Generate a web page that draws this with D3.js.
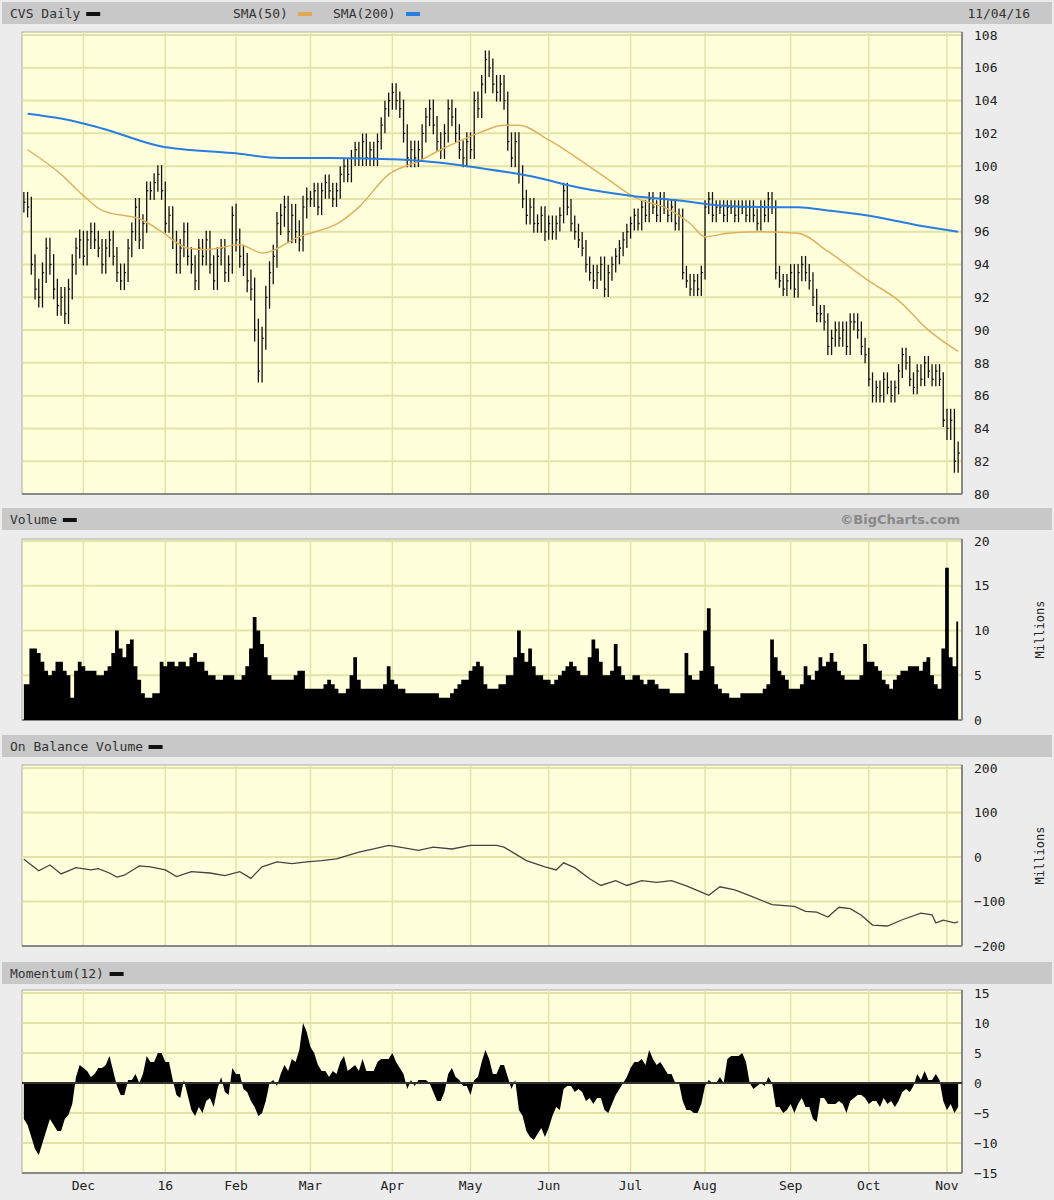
<!DOCTYPE html>
<html>
<head>
<meta charset="utf-8">
<script src="https://cdn.jsdelivr.net/npm/d3@7"></script>
<style>
  body { margin: 0; background: #ececec; }
  svg { display: block; }
</style>
</head>
<body>
<svg id="chart" width="1054" height="1200"></svg>
<script>
// daily closes, 2015-11-06 .. 2016-11-04, one block per month
var closes = [].concat(
  [97.8, 97.5, 94, 92.5, 92, 93.5, 95, 94, 92.5, 91.5, 92, 91, 92.5, 94, 95, 95.5],
  [94.5, 95.5, 96, 95.5, 95, 94, 95, 95.5, 94.5, 93.5, 93, 93.5, 95, 96, 97.5, 95.5, 96.5, 98.5, 98.5, 99, 99.5, 98.5],
  [96.5, 97, 95.5, 94, 95, 96, 94.5, 94, 93, 95, 94.5, 95.5, 94, 93, 94.5, 95, 93.5, 94, 97],
  [95.5, 94.5, 94, 93, 92.5, 90, 87.5, 89.5, 92, 93.5, 94.5, 96.5, 97, 97.5, 96, 97, 96, 95.5, 97.5, 98],
  [98, 98.5, 97.5, 98.5, 99, 98.5, 98, 98.5, 99.5, 100, 99.5, 100.5, 101, 100.5, 101.5, 100.5, 101, 100.5, 101.5, 102.5, 103.5, 104],
  [104.5, 104, 103.5, 102, 100.5, 101, 100.5, 101, 102, 103, 103.5, 102.5, 101.5, 101, 102, 103.5, 103, 102, 101, 100.5, 101.5],
  [101, 104, 103.5, 105, 106.5, 106, 105, 104.5, 105, 104, 101.5, 100.5, 101.5, 99.5, 98, 97, 97.5, 96.5, 96.5, 97, 96],
  [96.5, 96, 96.5, 97, 98.5, 97.5, 96.5, 96, 95.5, 95, 94, 93.5, 93, 93.5, 94, 92.5, 93.5, 94, 94.5, 95, 95.5, 96],
  [96.5, 97, 96.5, 97.5, 97, 98, 97.5, 97, 98, 97.5, 97, 97.5, 96.5, 97, 93.5, 93, 92.5, 93, 92.5, 93.5],
  [97.5, 98, 97, 97.5, 97.5, 97, 97.5, 97.5, 97, 97.5, 97.5, 97, 97.5, 97, 96.5, 97.5, 97, 98, 97.5, 93.5, 93, 92.5, 93],
  [93.5, 92.5, 93.5, 94, 93.5, 93, 92, 91, 91, 90.5, 89, 89.5, 90, 89.5, 90, 89, 90.5, 90.5, 90, 89, 88.5],
  [87, 86, 86.5, 86, 87, 86.5, 86, 86.5, 87.5, 88.5, 88, 87, 86.5, 87.5, 87, 88, 87.5, 87, 87.5, 87, 84.5],
  [84, 84.5, 82, 82.5]
);
// typical daily high-low range per month (Nov .. Nov)
var monthRange = [1.8, 1.6, 1.6, 2, 1.4, 1.6, 1.6, 1.4, 1.2, 1.2, 1.5, 1.2, 2];
var monthLen = [16, 22, 19, 20, 22, 21, 21, 22, 20, 23, 21, 21, 4];

// daily volume, millions
var volumes = [4, 4, 8, 8, 7.5, 6.5, 5.5, 5, 5.5, 6.5, 6.5, 5.5, 5, 2.5, 5.5, 6.5,
  6, 5.5, 5.5, 5.5, 5, 5, 5.5, 6, 7.5, 10, 8, 7, 8.5, 9, 6, 4.5, 3, 2.5, 2.5, 3, 3, 6.5,
  6, 6.5, 6.5, 6, 6.5, 6.5, 6, 7, 7.5, 6.5, 6.5, 5.5, 5, 5, 4.5, 4.5, 5, 5, 5,
  4.5, 4.5, 5, 6, 8, 11.5, 10, 8.5, 7, 5, 4.5, 4.5, 4.5, 4.5, 4.5, 4.5, 5, 5.5, 5.5, 3.5,
  3.5, 3.5, 3.5, 3.5, 4, 4.5, 4, 3.5, 3, 3, 3.5, 5, 7, 4.5, 3.5, 3.5, 3.5, 3.5, 3.5, 3.5, 4, 6,
  4.5, 4, 3.5, 3.5, 3, 3, 3, 3, 3, 3, 3, 3, 3, 2.5, 2.5, 2.5, 3, 3.5, 4, 4.5, 4.5,
  5.5, 6, 6.5, 6, 4, 3.5, 3.5, 3.5, 4, 4, 5, 5, 7, 10, 7.5, 6.5, 8, 6, 5, 5, 4.5,
  4.5, 4, 4.5, 5, 5.5, 6, 6.5, 6, 5.5, 5, 5, 7, 9, 8, 6.5, 5, 5, 5.5, 8.5, 6, 5, 4.5,
  4.5, 5, 5, 4.5, 4, 4.5, 4.5, 4, 3.5, 3.5, 3.5, 3, 3, 3, 3, 7.5, 5, 4.5, 4.5, 5.5,
  10, 12.5, 6, 4, 3.5, 3, 3, 2.5, 2.5, 2.5, 3, 3, 3, 3, 3, 3, 3.5, 4, 9, 7, 5.5, 5, 4.5,
  3.5, 3.5, 3.5, 4, 6, 5, 4.5, 5.5, 7, 6, 6.5, 7.5, 6.5, 5.5, 5, 4.5, 4.5, 4.5, 4.5, 5, 8.5,
  6.5, 6.5, 6, 5.5, 4.5, 4, 3.5, 4.5, 5, 5.5, 5.5, 6, 6, 6, 5.5, 6.5, 7, 5, 4, 3.5, 8,
  17, 7, 6, 11];

// moving averages: [day index, value]
var sma50 = [[1, 101], [10, 99.5], [16, 98.2], [21, 97.3], [32, 96.7], [37, 96], [44, 95], [49, 94.9],
  [58, 95.2], [64, 94.7], [74, 95.7], [85, 96.6], [90, 97.5], [98, 99.5], [106, 100.3], [112, 101],
  [122, 102], [129, 102.5], [133, 102.5], [141, 101.6], [155, 99.5], [165, 98], [172, 97.5],
  [179, 96.5], [183, 95.7], [189, 95.9], [197, 96], [208, 95.9], [216, 94.8], [227, 93],
  [235, 91.8], [243, 90], [251, 88.7]];
var sma200 = [[1, 103.2], [10, 102.9], [21, 102.3], [37, 101.2], [56, 100.8], [69, 100.5], [82, 100.5],
  [101, 100.4], [112, 100.2], [122, 99.9], [136, 99.4], [149, 98.7], [163, 98.2], [176, 97.9],
  [187, 97.6], [200, 97.5], [208, 97.5], [216, 97.3], [229, 96.9], [240, 96.4], [251, 96]];

// on balance volume, millions: [day index, value]
var obv = [[0, -5], [4, -31], [7, -18], [10, -38], [14, -24], [18, -29], [20, -26], [23, -36], [25, -45],
  [27, -41], [31, -20], [34, -22], [38, -29], [41, -44], [45, -33], [50, -36], [54, -42], [58, -33],
  [61, -48], [64, -22], [68, -11], [72, -15], [76, -11], [80, -8], [84, -4], [86, 1], [90, 11], [94, 18],
  [98, 26], [101, 22], [106, 15], [110, 22], [115, 18], [120, 26], [123, 26], [127, 26], [129, 22],
  [132, 7], [135, -8], [140, -22], [143, -29], [145, -13], [148, -24], [152, -49], [155, -64], [159, -53],
  [162, -64], [166, -53], [170, -57], [174, -53], [178, -65], [182, -79], [184, -86], [187, -67],
  [191, -74], [195, -87], [201, -107], [207, -111], [210, -122], [213, -124], [216, -135], [219, -113],
  [222, -116], [225, -131], [228, -153], [232, -155], [236, -141], [241, -126], [244, -130],
  [245, -148], [247, -142], [250, -148], [251, -146]];

// momentum for the first 12 days (needs closes before the window)
var momentumStart = [-6, -7, -9, -11, -12, -10, -8, -6, -7, -8, -8, -6];

var monthLabels = ["Dec", "16", "Feb", "Mar", "Apr", "May", "Jun", "Jul", "Aug", "Sep", "Oct", "Nov"];
var priceTicks = d3.range(80, 109, 2);
var volTicks = [0, 5, 10, 15, 20];
var obvTicks = [-200, -100, 0, 100, 200];
var momTicks = [-15, -10, -5, 0, 5, 10, 15];

var n = closes.length;
var svg = d3.select("#chart");
var font = "DejaVu Sans Mono";
var plotBg = "#ffffdc", gridC = "#e3e3a8";

var x = d3.scaleLinear().domain([-0.5, n - 0.5]).range([22, 960]);

// first trading day index of each month after the first
var monthStarts = [];
var acc = 0;
monthLen.forEach(function(l, i) { if (i > 0) monthStarts.push(acc); acc += l; });
var dayRange = [];
monthLen.forEach(function(l, i) { for (var k = 0; k < l; k++) dayRange.push(monthRange[i]); });

function header(y, label, dash) {
  svg.append("rect").attr("x", 2).attr("y", y).attr("width", 1050).attr("height", 22).attr("fill", "#c8c8c8");
  svg.append("text").attr("x", 10).attr("y", y + 16).attr("font-family", font).attr("font-size", 13)
    .attr("fill", "#333").text(label);
  var w = label.length * 7.8;
  svg.append("rect").attr("x", 10 + w + 6).attr("y", y + 10).attr("width", 14).attr("height", 4).attr("fill", dash);
}

function panel(top, bottom, y, ticks, fmt, units) {
  svg.append("rect").attr("x", 22).attr("y", top).attr("width", 940).attr("height", bottom - top)
    .attr("fill", plotBg).attr("stroke", "#aaa");
  svg.selectAll(null).data(ticks).enter().append("line")
    .attr("x1", 22).attr("x2", 962).attr("y1", function(d) { return y(d); }).attr("y2", function(d) { return y(d); })
    .attr("stroke", gridC).attr("stroke-width", 2);
  svg.selectAll(null).data(monthStarts).enter().append("line")
    .attr("x1", function(d) { return x(d); }).attr("x2", function(d) { return x(d); })
    .attr("y1", top).attr("y2", bottom).attr("stroke", gridC).attr("stroke-width", 1.5);
  svg.append("line").attr("x1", 22).attr("x2", 962).attr("y1", bottom).attr("y2", bottom).attr("stroke", "#888").attr("stroke-width", 2);
  svg.append("line").attr("x1", 962).attr("x2", 962).attr("y1", top).attr("y2", bottom).attr("stroke", "#888").attr("stroke-width", 2);
  var ax = svg.append("g").attr("transform", "translate(962,0)")
    .call(d3.axisRight(y).tickValues(ticks).tickSize(0).tickPadding(12).tickFormat(fmt));
  ax.select(".domain").remove();
  ax.selectAll("text").attr("font-family", font).attr("font-size", 13).attr("fill", "#222");
  if (units) {
    var cy = (top + bottom) / 2;
    svg.append("text").attr("transform", "translate(1044," + cy + ") rotate(-90)")
      .attr("text-anchor", "middle").attr("font-family", font).attr("font-size", 12).attr("fill", "#222").text(units);
  }
}

// ---- price panel
header(2, "CVS Daily", "#111");
svg.append("text").attr("x", 233).attr("y", 18).attr("font-family", font).attr("font-size", 13).attr("fill", "#333").text("SMA(50)");
svg.append("rect").attr("x", 298).attr("y", 12).attr("width", 14).attr("height", 4).attr("fill", "#e0a850");
svg.append("text").attr("x", 333).attr("y", 18).attr("font-family", font).attr("font-size", 13).attr("fill", "#333").text("SMA(200)");
svg.append("rect").attr("x", 406).attr("y", 12).attr("width", 14).attr("height", 4).attr("fill", "#2a7de0");
svg.append("text").attr("x", 1030).attr("y", 18).attr("text-anchor", "end").attr("font-family", font).attr("font-size", 13).attr("fill", "#333").text("11/04/16");

var yP = d3.scaleLinear().domain([80, 108]).range([494, 35]);
panel(32, 494, yP, priceTicks, d3.format("d"));

var bars = closes.map(function(c, i) {
  var o = i > 0 ? closes[i - 1] : c;
  var r = dayRange[i] * 0.35;
  return { i: i, o: o, c: c, h: Math.max(o, c) + r, l: Math.min(o, c) - r };
});
var bg = svg.append("g").attr("stroke", "#111").attr("stroke-width", 1.3);
bg.selectAll(null).data(bars).enter().append("line")
  .attr("x1", function(d) { return x(d.i); }).attr("x2", function(d) { return x(d.i); })
  .attr("y1", function(d) { return yP(d.h); }).attr("y2", function(d) { return yP(d.l); });
bg.selectAll(null).data(bars).enter().append("line")
  .attr("x1", function(d) { return x(d.i); }).attr("x2", function(d) { return x(d.i) + 1.6; })
  .attr("y1", function(d) { return yP(d.c); }).attr("y2", function(d) { return yP(d.c); });

var smaLine = d3.line().x(function(d) { return x(d[0]); }).y(function(d) { return yP(d[1]); }).curve(d3.curveMonotoneX);
svg.append("path").attr("d", smaLine(sma50)).attr("fill", "none").attr("stroke", "#e0b060").attr("stroke-width", 1.5);
svg.append("path").attr("d", smaLine(sma200)).attr("fill", "none").attr("stroke", "#2a7de0").attr("stroke-width", 2);

// ---- volume panel
header(508, "Volume", "#111");
svg.append("text").attr("x", 960).attr("y", 524).attr("text-anchor", "end").attr("font-family", "DejaVu Sans")
  .attr("font-weight", "bold").attr("font-size", 13).attr("fill", "#888").text("\u00a9BigCharts.com");
var yV = d3.scaleLinear().domain([0, 20]).range([720, 541]);
panel(539, 720, yV, volTicks, d3.format("d"), "Millions");
svg.append("path").datum(volumes)
  .attr("d", d3.area().x(function(d, i) { return x(i); }).y0(yV(0)).y1(function(d) { return yV(d); }).curve(d3.curveStep))
  .attr("fill", "#000");

// ---- on balance volume
header(735, "On Balance Volume", "#111");
var yO = d3.scaleLinear().domain([-200, 200]).range([946, 768]);
panel(765, 946, yO, obvTicks, d3.format("d"), "Millions");
svg.append("path").attr("d", d3.line().x(function(d) { return x(d[0]); }).y(function(d) { return yO(d[1]); })(obv))
  .attr("fill", "none").attr("stroke", "#444").attr("stroke-width", 1.3);

// ---- momentum
header(962, "Momentum(12)", "#111");
var yM = d3.scaleLinear().domain([-15, 15]).range([1173, 993]);
panel(990, 1173, yM, momTicks, d3.format("d"));
var mom = closes.map(function(c, i) { return i < 12 ? momentumStart[i] : c - closes[i - 12]; });
svg.append("path").datum(mom)
  .attr("d", d3.area().x(function(d, i) { return x(i); }).y0(yM(0)).y1(function(d) { return yM(d); }))
  .attr("fill", "#000");
svg.append("line").attr("x1", 22).attr("x2", 962).attr("y1", yM(0)).attr("y2", yM(0)).attr("stroke", "#333").attr("stroke-width", 2);

// month labels
svg.selectAll(null).data(monthStarts).enter().append("text")
  .attr("x", function(d) { return x(d); }).attr("y", 1190).attr("text-anchor", "middle")
  .attr("font-family", font).attr("font-size", 13).attr("fill", "#222")
  .text(function(d, i) { return monthLabels[i]; });
</script>
</body>
</html>
